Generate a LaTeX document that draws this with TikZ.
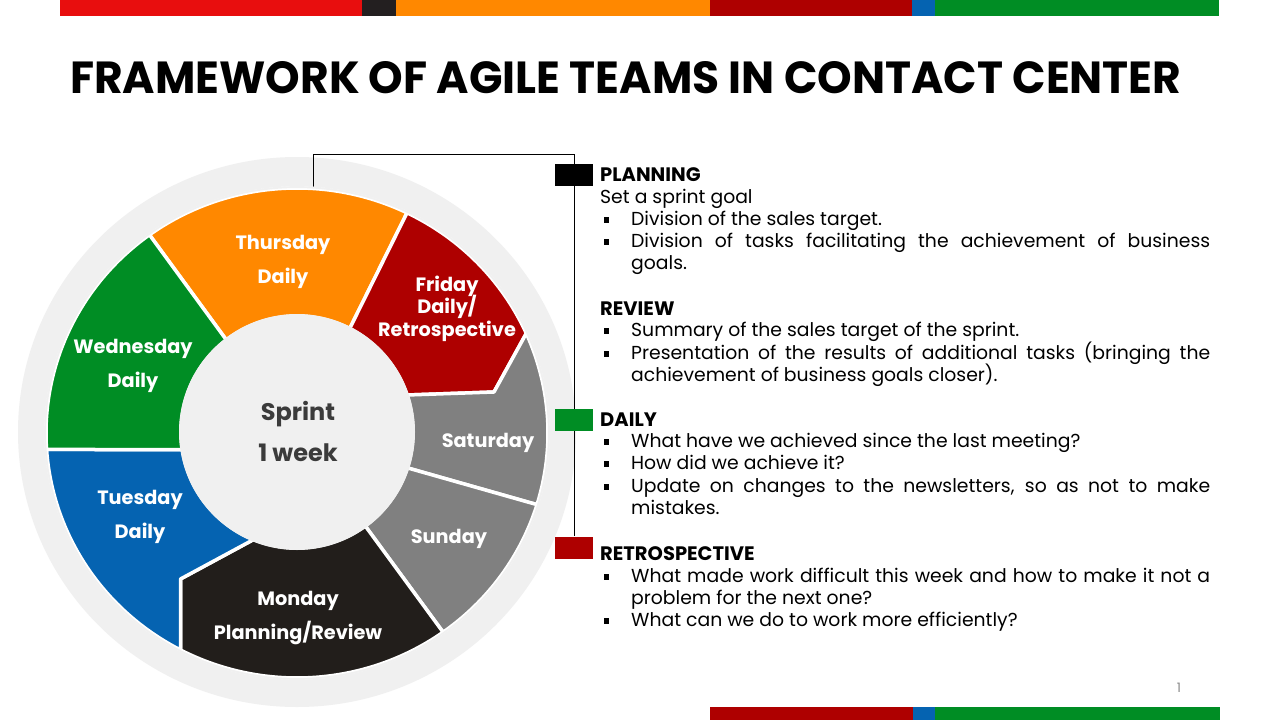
\documentclass[tikz,border=0pt]{standalone}
\usepackage{fontspec}
\usepackage{graphicx}
\setmainfont{Poppins}
\usetikzlibrary{calc}
\definecolor{barred}{HTML}{E80E0E}
\definecolor{bardark}{HTML}{231F20}
\definecolor{orng}{HTML}{FF8800}
\definecolor{dred}{HTML}{AE0000}
\definecolor{blu}{HTML}{0563B1}
\definecolor{grn}{HTML}{008D24}
\definecolor{gry}{HTML}{808080}
\definecolor{blk}{HTML}{221E1B}
\definecolor{ringc}{HTML}{F0F0F0}
\definecolor{sprintc}{HTML}{3B3B3B}
\definecolor{pagec}{HTML}{8A8A8A}
\newcommand\bodyf{\fontsize{18.8}{22}\selectfont}
\newcommand\hdf{\bfseries\fontsize{19.5}{22}\selectfont}
\newcommand\bul{\makebox[27pt][l]{\raisebox{2.5pt}{\rule{5pt}{5.5pt}}}}
\newcommand\jl[1]{\sbox0{#1}\ifdim\wd0>579pt\resizebox{579pt}{\ht0}{#1}\else\makebox[579pt][s]{#1}\fi}
\tikzset{
  seg/.style={draw=white, line width=3.5pt, line join=round},
  daylbl/.style={text=white, font=\bfseries\fontsize{19.3}{22}\selectfont, inner sep=0, text height=13.5pt, text depth=0pt},
  sprintlbl/.style={text=sprintc, font=\bfseries\fontsize{24}{28}\selectfont, inner sep=0, text height=17pt, text depth=0pt},
  txt/.style={anchor=base west, inner sep=0, font=\bodyf},
  hd/.style={anchor=base west, inner sep=0, font=\hdf},
  sqbox/.style={minimum width=38pt, minimum height=22pt, inner sep=0, draw=none},
  conn/.style={draw=black, line width=1pt},
}
\begin{document}
\begin{tikzpicture}[x=1pt,y=1pt]
\useasboundingbox (0,0) rectangle (1280,-720);
\fill[white] (0,0) rectangle (1280,-720);
% top bar
\fill[barred] (60,0) rectangle (362,-16);
\fill[bardark] (362,0) rectangle (396,-16);
\fill[orng] (396,0) rectangle (710,-16);
\fill[dred] (710,0) rectangle (912,-16);
\fill[blu] (912,0) rectangle (935,-16);
\fill[grn] (935,0) rectangle (1219,-16);
% bottom bar
\fill[dred] (710,-707) rectangle (913,-720);
\fill[blu] (913,-707) rectangle (935,-720);
\fill[grn] (935,-707) rectangle (1220,-720);
% title
\node[anchor=west, inner sep=0] (title) at (70,-78) {\resizebox{1111pt}{32pt}{\bfseries FRAMEWORK OF AGILE TEAMS IN CONTACT CENTER}};
% wheel
\coordinate (Co) at (297,-433);
\coordinate (Ci) at (297,-432);
\fill[ringc] (297,-432) ellipse [x radius=279, y radius=275];
% squares and connector
\coordinate (thutop) at (313,-189);
\coordinate (topright) at (574,-154.5);
\node[sqbox] (retrosq) at (574,-547.5) {};
\draw[conn] (thutop) |- (topright) -- (retrosq.north);
\node[sqbox, fill=black] (plansq) at (574,-174.5) {};
\node[sqbox, fill=grn] (dailysq) at (574,-419.5) {};
\node[sqbox, fill=dred] at (retrosq) {};
% segments
\path[seg, fill=orng] ($(Co)+(126:251 and 245)$) arc[start angle=126, end angle=64, x radius=251, y radius=245]
  -- ($(Ci)+(63:116)$) arc[start angle=63, end angle=127.5, radius=116] -- cycle;
\path[seg, fill=dred] ($(Co)+(64:251 and 245)$) arc[start angle=64, end angle=24, x radius=251, y radius=245]
  -- (494,-392) -- ($(Ci)+(18.6:116)$) arc[start angle=18.6, end angle=63, radius=116] -- cycle;
\path[seg, fill=gry] ($(Ci)+(18.6:116)$) -- (494,-392) -- ($(Co)+(24:251 and 245)$) arc[start angle=24, end angle=-17, x radius=251, y radius=245]
  -- ($(Ci)+(-18:116)$) arc[start angle=-18, end angle=18.6, radius=116] -- cycle;
\path[seg, fill=gry] ($(Co)+(-17:251 and 245)$) arc[start angle=-17, end angle=-54.4, x radius=251, y radius=245]
  -- ($(Ci)+(-54:116)$) arc[start angle=-54, end angle=-18, radius=116] -- cycle;
\path[seg, fill=blk] ($(Co)+(-54.4:251 and 245)$) arc[start angle=-54.4, end angle=-117.65, x radius=251, y radius=245]
  -- (180.5,-579) -- ($(Ci)+(-112:116)$) arc[start angle=-112, end angle=-54, radius=116] -- cycle;
\path[seg, fill=blu] ($(Co)+(-176.14:251 and 245)$) -- ($(Ci)+(-171.32:116)$) arc[start angle=-171.32, end angle=-112, radius=116]
  -- (180.5,-579) -- ($(Co)+(-117.65:251 and 245)$) arc[start angle=-117.65, end angle=-176.14, x radius=251, y radius=245] -- cycle;
\path[seg, fill=grn] ($(Co)+(-176.14:251 and 245)$) arc[start angle=-176.14, end angle=-234, x radius=251, y radius=245]
  -- ($(Ci)+(-232.5:116)$) arc[start angle=-232.5, end angle=-171.32, radius=116] -- cycle;
\draw[ringc, line width=1.9pt] (Co) ellipse [x radius=251.9, y radius=245.9];
\fill[ringc] (Ci) circle[radius=118];
% labels
\node[daylbl] (thu) at (283,-243) {Thursday};
\node[daylbl] (thud) at (283,-277) {Daily};
\node[daylbl] (fri) at (447,-285) {Friday};
\node[daylbl] (frid) at (447,-307) {Daily/};
\node[daylbl] (frir) at (447,-330) {Retrospective};
\node[daylbl] (wed) at (133,-347) {Wednesday};
\node[daylbl] (wedd) at (133,-381) {Daily};
\node[daylbl] (sat) at (488,-441) {Saturday};
\node[daylbl] (sun) at (449,-537) {Sunday};
\node[daylbl] (tue) at (140,-498) {Tuesday};
\node[daylbl] (tued) at (140,-532) {Daily};
\node[daylbl] (mon) at (298,-599) {Monday};
\node[daylbl] (monp) at (298,-633) {Planning/Review};
\node[sprintlbl] (spr) at (298,-412) {Sprint};
\node[sprintlbl] (wk) at (298,-453) {1 week};
% text column
\node[hd] (h1) at (600,-181) {PLANNING};
\node[txt] (t1) at (600,-203) {Set a sprint goal};
\node[txt] (t2) at (604,-225) {\bul Division of the sales target.};
\node[txt] (t3) at (604,-247) {\bul\jl{Division of tasks facilitating the achievement of business}};
\node[txt] (t4) at (631,-269) {goals.};
\node[hd] (h2) at (600,-315) {REVIEW};
\node[txt] (t5) at (604,-336) {\bul Summary of the sales target of the sprint.};
\node[txt] (t6) at (604,-359) {\bul\jl{Presentation of the results of additional tasks (bringing the}};
\node[txt] (t7) at (631,-381) {achievement of business goals closer).};
\node[hd] (h3) at (600,-426) {DAILY};
\node[txt] (t8) at (604,-447) {\bul What have we achieved since the last meeting?};
\node[txt] (t9) at (604,-469) {\bul How did we achieve it?};
\node[txt] (t10) at (604,-492) {\bul\jl{Update on changes to the newsletters, so as not to make}};
\node[txt] (t11) at (631,-514) {mistakes.};
\node[hd] (h4) at (600,-560) {RETROSPECTIVE};
\node[txt] (t12) at (604,-582) {\bul\jl{What made work difficult this week and how to make it not a}};
\node[txt] (t13) at (631,-604) {problem for the next one?};
\node[txt] (t14) at (604,-626) {\bul What can we do to work more efficiently?};
\node[text=pagec, font=\fontsize{13}{15}\selectfont, inner sep=0] (pg) at (1179,-688) {1};
\end{tikzpicture}
\end{document}
